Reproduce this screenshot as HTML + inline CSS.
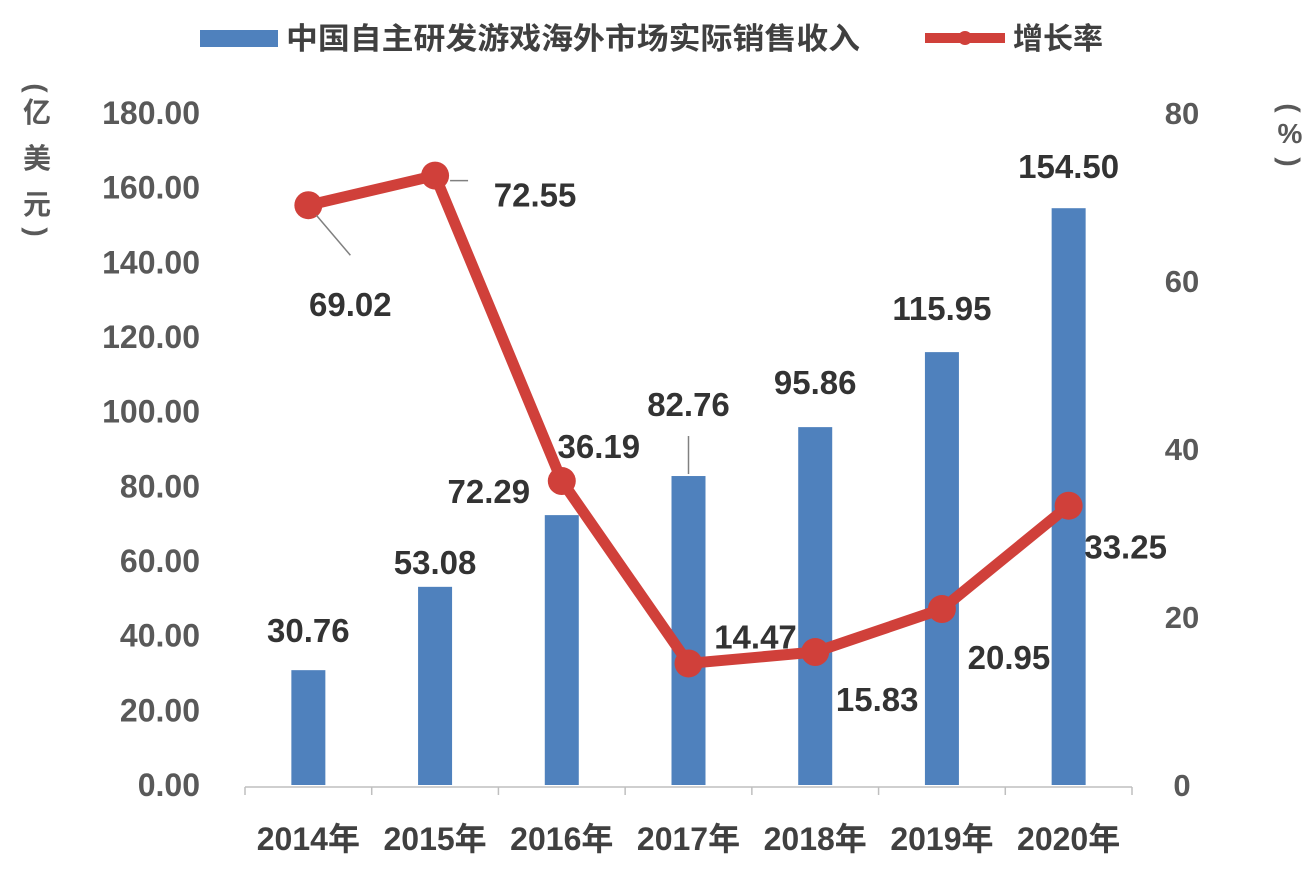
<!DOCTYPE html>
<html><head><meta charset="utf-8">
<style>
html,body{margin:0;padding:0;background:#fff;}
svg text{font-family:"Liberation Sans","Noto Sans CJK SC",sans-serif;font-weight:bold;}
</style></head>
<body>
<svg id="chart" width="1314" height="886" viewBox="0 0 1314 886" xmlns="http://www.w3.org/2000/svg">
<g id="axes"></g>
<g id="bars"></g>
<g id="line"></g>
<g id="labels"></g>
<g>
  <rect x="200" y="30" width="78" height="17" fill="#4f81bd"/>
  <text x="286" y="49" font-size="30" fill="#404040" textLength="574" lengthAdjust="spacingAndGlyphs">中国自主研发游戏海外市场实际销售收入</text>
  <line x1="925" y1="38" x2="1005" y2="38" stroke="#d0403a" stroke-width="10"/>
  <circle cx="965" cy="38" r="7" fill="#d0403a"/>
  <text x="1013" y="49" font-size="30" fill="#404040">增长率</text>
</g>
<g font-size="28" fill="#595959">
  <text x="37" y="88" text-anchor="middle" dominant-baseline="central" transform="rotate(90 37 88)">(</text>
  <text x="37" y="122" text-anchor="middle">亿</text>
  <text x="37" y="168" text-anchor="middle">美</text>
  <text x="37" y="214" text-anchor="middle">元</text>
  <text x="37" y="232" text-anchor="middle" dominant-baseline="central" transform="rotate(90 37 232)">)</text>
</g>
<g font-size="28" fill="#595959">
  <text x="1290" y="108" text-anchor="middle" dominant-baseline="central" transform="rotate(90 1290 108)">(</text>
  <text x="1290" y="143" text-anchor="middle">%</text>
  <text x="1290" y="162" text-anchor="middle" dominant-baseline="central" transform="rotate(90 1290 162)">)</text>
</g>
</svg>
<script>
const categories=["2014年","2015年","2016年","2017年","2018年","2019年","2020年"];
const revenue=[30.76,53.08,72.29,82.76,95.86,115.95,154.50];
const growth=[69.02,72.55,36.19,14.47,15.83,20.95,33.25];
const leftTicks=[0,20,40,60,80,100,120,140,160,180];
const rightTicks=[0,20,40,60,80];
const NS="http://www.w3.org/2000/svg";
const x0=245,x1=1132,yBase=785,yTop=113;
const band=(x1-x0)/categories.length;
const xC=i=>x0+band*(i+0.5);
const yL=v=>yBase-(v/180)*(yBase-yTop);
const yR=v=>yBase-(v/80)*(yBase-yTop);
function mk(tag,attrs,parent,text){const e=document.createElementNS(NS,tag);for(const k in attrs)e.setAttribute(k,attrs[k]);if(text!==undefined)e.textContent=text;parent.appendChild(e);return e;}
const axes=document.getElementById('axes'),bars=document.getElementById('bars'),line=document.getElementById('line'),labels=document.getElementById('labels');
let el=mk('line',{x1:x0,y1:yBase+2,x2:x1,y2:yBase+2,stroke:'#bfbfbf','stroke-width':1.5},axes);


for(let i=0;i<=categories.length;i++){
  el=mk('line',{x1:x0+band*i,y1:yBase+2,x2:x0+band*i,y2:yBase+10,stroke:'#bfbfbf','stroke-width':1.5},axes);
  
  
}
categories.forEach((c,i)=>{
  el=mk('text',{x:xC(i),y:850,'text-anchor':'middle','font-size':32,fill:'#404040'},axes,c);
  
  
});
leftTicks.forEach(v=>{
  el=mk('text',{x:200,y:yL(v)+11,'text-anchor':'end','font-size':32,fill:'#595959'},axes,v.toFixed(2));
  
  
});
rightTicks.forEach(v=>{
  el=mk('text',{x:1182,y:yR(v)+11,'text-anchor':'middle','font-size':31,fill:'#595959'},axes,String(v));
  
  
});
const bw=34;
revenue.forEach((v,i)=>{
  el=mk('rect',{x:xC(i)-bw/2,y:yL(v),width:bw,height:yBase-yL(v),fill:'#4f81bd'},bars);
  
  
});
el=mk('polyline',{points:growth.map((v,i)=>xC(i)+','+yR(v)).join(' '),fill:'none',stroke:'#d0403a','stroke-width':11,'stroke-linejoin':'round'},line);


growth.forEach((v,i)=>{
  el=mk('circle',{cx:xC(i),cy:yR(v),r:14,fill:'#d0403a'},line);
  
  
});
const barOff=[[0,-28],[0,-13],[-73,-12],[0,-60],[0,-33],[0,-32],[0,-30]];
const lineOff=[[42,100],[100,20],[37,-34],[67,-26],[62,48],[67,49],[57,42]];
revenue.forEach((v,i)=>{
  el=mk('text',{x:xC(i)+barOff[i][0],y:yL(v)+barOff[i][1],'text-anchor':'middle','font-size':33,fill:'#333'},labels,v.toFixed(2));
  
  
});
growth.forEach((v,i)=>{
  el=mk('text',{x:xC(i)+lineOff[i][0],y:yR(v)+lineOff[i][1]+11,'text-anchor':'middle','font-size':33,fill:'#333'},labels,v.toFixed(2));
  
  
});
el=mk('line',{x1:xC(0)+8,y1:yR(growth[0])+10,x2:xC(0)+42,y2:yR(growth[0])+50,stroke:'#808080','stroke-width':1.5},labels);


el=mk('line',{x1:xC(1)+15,y1:yR(growth[1])+5,x2:xC(1)+33,y2:yR(growth[1])+5,stroke:'#808080','stroke-width':1.5},labels);


el=mk('line',{x1:xC(3),y1:yL(revenue[3])-2,x2:xC(3),y2:yL(revenue[3])-40,stroke:'#808080','stroke-width':1.5},labels);


</script>
</body></html>
